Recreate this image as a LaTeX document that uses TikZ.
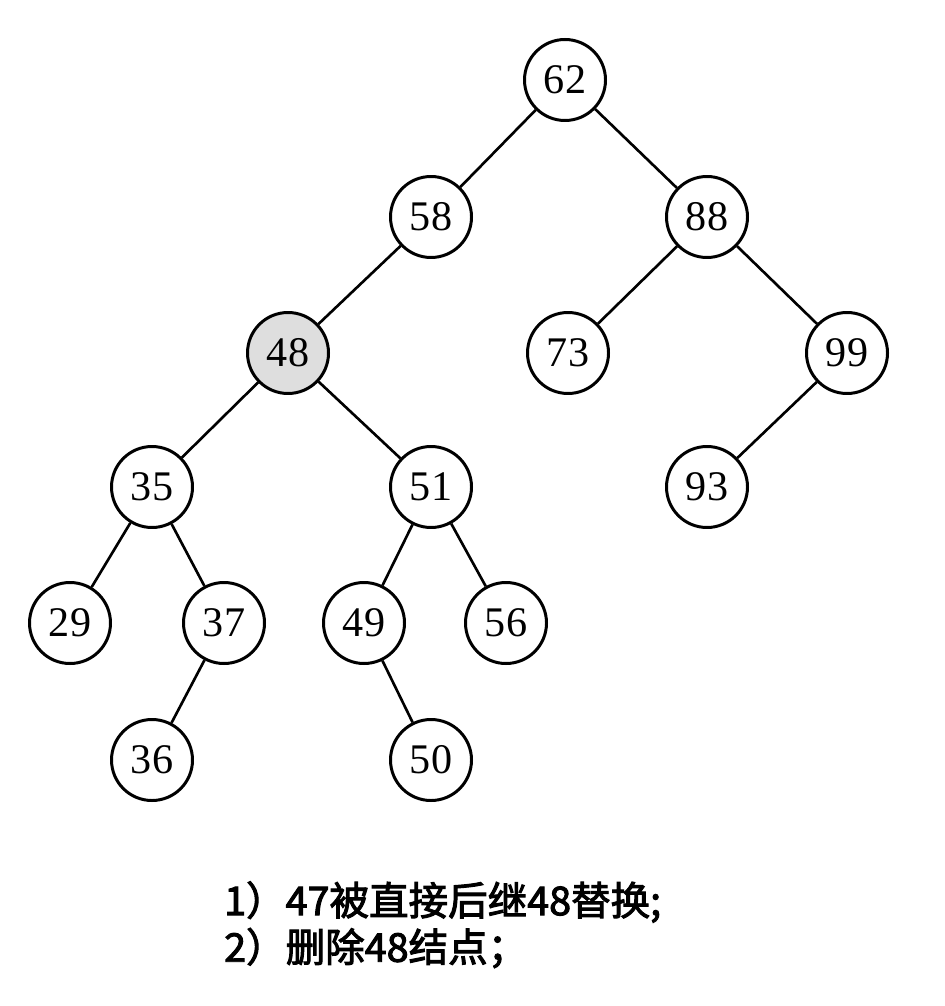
\documentclass[tikz,border=0pt]{standalone}
\usepackage{fontspec}
\setmainfont{Liberation Serif}
\newfontfamily\cjk{Noto Sans CJK SC}[AutoFakeBold=2.5]
\usepackage{tikz}
\definecolor{lightgray}{RGB}{222,222,222}
\tikzset{key/.style={circle, draw=black, line width=1.7pt, minimum size=81*0.02cm, inner sep=0pt, font=\fontsize{24}{24}\selectfont},
%the node that takes the deleted key's place
keyfill/.style={key, fill=lightgray}}

\begin{document}
\begin{tikzpicture}[x=0.02cm, y=-0.02cm]
\useasboundingbox (0,0) rectangle (944,1006);
% tree
\node[key] (k62) at (565,80) {62};
\node[key] (k58) at (431,217) {58};
\node[key] (k88) at (707,217) {88};
\node[keyfill] (k48) at (288,353) {48};
\node[key] (k73) at (568,353) {73};
\node[key] (k99) at (847,353) {99};
\node[key] (k35) at (152,487) {35};
\node[key] (k51) at (431,487) {51};
\node[key] (k93) at (707,487) {93};
\node[key] (k29) at (70,623) {29};
\node[key] (k37) at (224,623) {37};
\node[key] (k49) at (364,623) {49};
\node[key] (k56) at (506,623) {56};
\node[key] (k36) at (152,760) {36};
\node[key] (k50) at (431,760) {50};

%edges
\foreach \a/\b in {62/58,62/88,58/48,88/73,88/99,48/35,48/51,99/93,35/29,35/37,51/49,51/56,37/36,49/50}
     \draw[line width=1.5pt] (k\a) -- (k\b);

% caption
\node[anchor=west, font=\cjk\bfseries\fontsize{22.5}{22.5}\selectfont] (step1) at (218,902) {1）47被直接后继48替换;};
\node[anchor=west, font=\cjk\bfseries\fontsize{22.5}{22.5}\selectfont] (step2) at (218,948) {2）删除48结点；};

\end{tikzpicture}
\end{document}
